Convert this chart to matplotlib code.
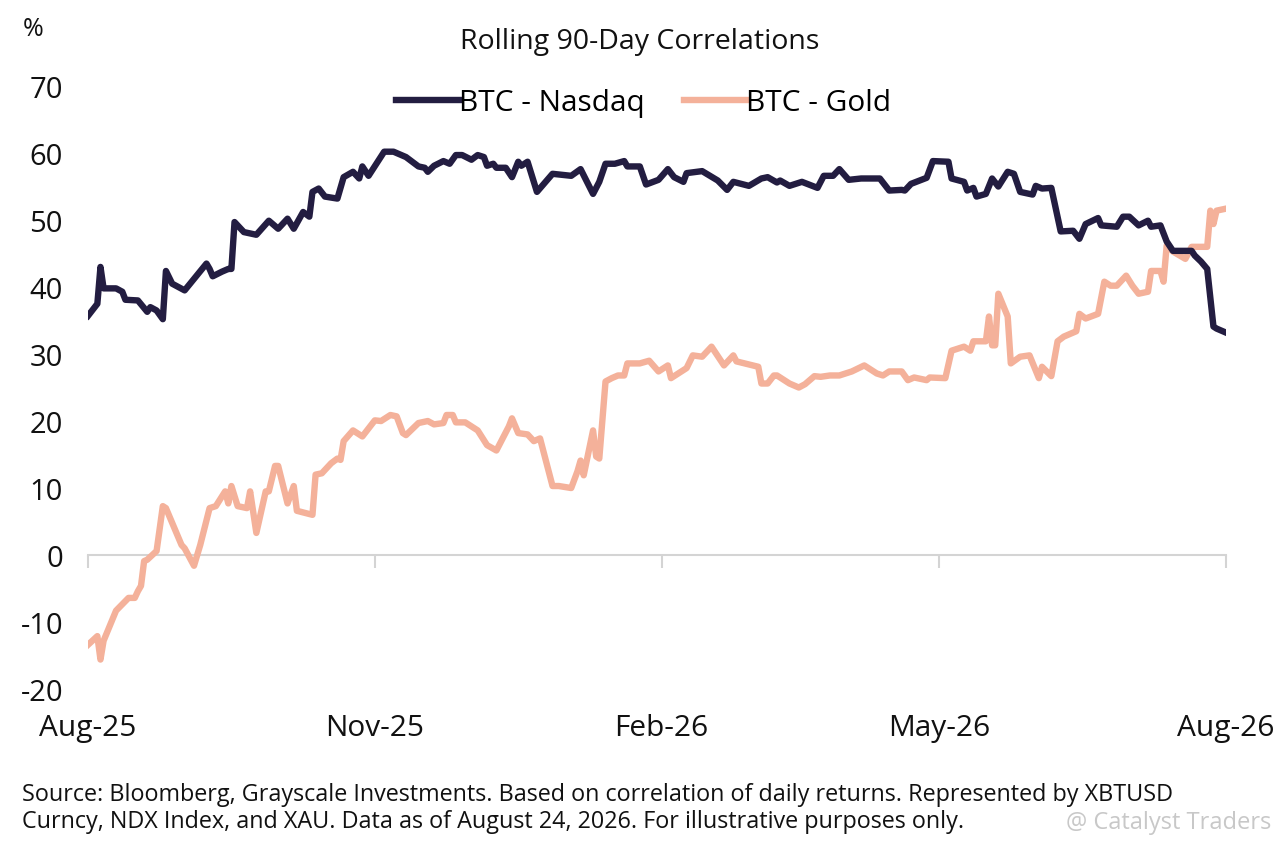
import numpy as np
import pandas as pd
import matplotlib
matplotlib.use("Agg")
import matplotlib.pyplot as plt

plt.rcParams['font.family'] = ['Open Sans', 'DejaVu Sans']

# day offsets from 24 Aug 2025 and correlation values (%)
nasdaq_days = [0, 3, 4, 5, 9, 11, 12, 16, 19, 20, 22, 24, 25, 27, 31, 38, 39, 40, 43, 45,
               46, 47, 50, 54, 58, 61, 64, 66, 69, 71, 72, 74, 76, 80, 82, 85, 87, 88, 90,
               95, 98, 102, 106, 108, 109, 111, 114, 116, 118, 120, 123, 125, 127, 128, 130,
               131, 134, 136, 138, 139, 141, 144, 149, 153, 155, 158, 162, 164, 166, 169,
               172, 173, 177, 179, 183, 186, 188, 191, 192, 197, 202, 205, 207, 212, 216,
               218, 221, 222, 225, 229, 234, 236, 239, 241, 244, 248, 254, 257, 261, 262,
               264, 269, 271, 276, 277, 281, 282, 284, 285, 288, 290, 292, 295, 297, 299,
               303, 304, 306, 309, 312, 316, 318, 320, 324, 325, 330, 332, 334, 337, 340,
               341, 344, 346, 348, 354, 355, 357, 359, 361, 362, 365]
nasdaq_vals = [35.7, 37.5, 43.0, 39.8, 39.8, 39.3, 38.1, 38.0, 36.3, 37.0, 36.5, 35.2, 42.4,
               40.5, 39.5, 43.5, 42.7, 41.6, 42.3, 42.7, 42.7, 49.7, 48.2, 47.8, 49.9, 48.7,
               50.2, 48.7, 51.2, 50.5, 54.2, 54.7, 53.5, 53.2, 56.4, 57.2, 56.2, 58.0, 56.6,
               60.2, 60.2, 59.4, 58.0, 57.8, 57.2, 58.1, 58.8, 58.4, 59.7, 59.7, 59.0, 59.7,
               59.4, 58.1, 58.4, 57.8, 57.8, 56.4, 58.7, 58.1, 58.7, 54.2, 56.9, 56.7, 56.6,
               57.6, 53.9, 55.7, 58.4, 58.4, 58.8, 58.0, 58.0, 55.3, 56.0, 57.6, 56.4, 55.7,
               57.0, 57.3, 55.9, 54.5, 55.7, 55.1, 56.2, 56.4, 55.6, 55.9, 55.1, 55.7, 54.8,
               56.6, 56.6, 57.6, 56.0, 56.2, 56.2, 54.4, 54.5, 54.4, 55.4, 56.3, 58.8, 58.7,
               56.2, 55.7, 54.4, 54.8, 53.5, 53.9, 56.2, 55.0, 57.2, 56.9, 54.2, 53.8, 55.1,
               54.7, 54.8, 48.3, 48.4, 47.2, 49.4, 50.3, 49.2, 49.0, 50.5, 50.5, 49.2, 49.9,
               49.0, 49.2, 46.8, 45.4, 45.4, 44.7, 43.8, 42.7, 34.1, 33.8, 33.2]

gold_days = [0, 3, 4, 5, 9, 13, 15, 16, 17, 18, 19, 22, 24, 25, 30, 31, 34, 36, 39, 41, 44,
             45, 46, 48, 51, 52, 54, 57, 58, 60, 61, 64, 66, 67, 72, 73, 75, 78, 80, 81, 82,
             85, 88, 92, 94, 97, 99, 101, 102, 106, 109, 111, 114, 115, 117, 118, 121, 125,
             128, 131, 135, 136, 138, 141, 143, 145, 149, 151, 155, 157, 158, 159, 162, 163,
             164, 166, 168, 170, 172, 173, 177, 180, 183, 186, 187, 191, 192, 194, 197, 200,
             204, 207, 208, 215, 216, 218, 220, 221, 225, 228, 230, 233, 235, 238, 241, 245,
             249, 253, 255, 257, 261, 263, 265, 269, 270, 275, 277, 281, 283, 284, 288, 289,
             290, 291, 292, 295, 296, 299, 302, 305, 306, 309, 311, 313, 317, 318, 320, 324,
             326, 328, 330, 333, 335, 337, 340, 341, 344, 345, 346, 348, 352, 354, 359, 360,
             361, 362, 365]
gold_vals = [-13.4, -12.1, -15.6, -12.8, -8.3, -6.4, -6.4, -5.4, -4.6, -0.9, -0.7, 0.6, 7.3,
             7.0, 1.5, 1.0, -1.6, 1.5, 7.0, 7.3, 9.5, 7.7, 10.3, 7.3, 7.0, 9.5, 3.3, 9.5, 9.5,
             13.3, 13.3, 7.7, 10.3, 6.6, 6.0, 12.0, 12.2, 13.7, 14.4, 14.2, 17.0, 18.6, 17.7,
             20.1, 20.0, 20.9, 20.7, 18.2, 17.9, 19.7, 20.0, 19.5, 19.7, 20.9, 20.9, 19.8,
             19.8, 18.6, 16.4, 15.6, 19.2, 20.4, 18.2, 18.0, 17.0, 17.4, 10.3, 10.3, 10.0,
             12.5, 14.1, 11.9, 18.6, 14.7, 14.4, 25.9, 26.4, 26.8, 26.8, 28.6, 28.6, 29.0,
             27.4, 28.3, 26.4, 27.6, 27.9, 29.8, 29.6, 31.1, 28.3, 29.8, 28.9, 28.1, 25.6,
             25.6, 26.8, 26.8, 25.6, 25.0, 25.5, 26.7, 26.6, 26.8, 26.8, 27.4, 28.3, 27.1,
             26.8, 27.4, 27.4, 26.1, 26.5, 26.1, 26.5, 26.4, 30.5, 31.1, 30.5, 31.9, 31.9,
             35.6, 31.3, 31.3, 39.0, 35.6, 28.6, 29.6, 29.8, 26.4, 28.1, 26.7, 31.9, 32.6,
             33.4, 36.0, 35.3, 36.0, 40.8, 40.2, 40.2, 41.7, 40.2, 39.0, 39.3, 42.4, 42.4,
             40.8, 46.2, 45.3, 44.2, 46.0, 46.0, 51.4, 49.4, 51.4, 51.7]

start = pd.Timestamp('2025-08-24')
tick_dates = pd.to_datetime(['2025-08-24', '2025-11-24', '2026-02-24', '2026-05-24', '2026-08-24'])
y_ticks = [-20, -10, 0, 10, 20, 30, 40, 50, 60, 70]

nasdaq_x = start + pd.to_timedelta(nasdaq_days, unit='D')
gold_x = start + pd.to_timedelta(gold_days, unit='D')

navy = '#231d41'
salmon = '#f4b19a'
ink = '#111111'

fig = plt.figure(figsize=(12.8, 8.45), dpi=100)
ax = fig.add_axes([0.06875, 0.1834, 0.8890, 0.7136])

ax.plot(gold_x, gold_vals, color=salmon, lw=4.6, solid_joinstyle='round', label='BTC - Gold', zorder=3)
ax.plot(nasdaq_x, nasdaq_vals, color=navy, lw=4.6, solid_joinstyle='round', label='BTC - Nasdaq', zorder=4)

ax.set_xlim(start, start + pd.Timedelta(days=365))
ax.set_ylim(-20, 70)

# zero line carries the ticks, labels sit at the bottom
for s in ['top', 'right', 'left']:
    ax.spines[s].set_visible(False)
ax.spines['bottom'].set_position(('data', 0))
ax.spines['bottom'].set_color('#d4d4d4')
ax.spines['bottom'].set_linewidth(1.5)
ax.set_xticks(tick_dates)
ax.tick_params(axis='x', length=9, width=1.5, color='#d4d4d4', labelbottom=False)

sec = ax.secondary_xaxis('bottom')
sec.spines['bottom'].set_visible(False)
sec.set_xticks(tick_dates)
sec.set_xticklabels([d.strftime('%b-%y') for d in tick_dates])
sec.tick_params(length=0, pad=17, labelsize=21.5, labelcolor=ink)

ax.set_yticks(y_ticks)
ax.set_yticklabels([str(v) for v in y_ticks])
ax.tick_params(axis='y', length=0, pad=18, labelsize=21, labelcolor=ink)

fig.text(0.018, 0.965, '%', fontsize=18, color=ink, va='center')
fig.text(0.50, 0.950, 'Rolling 90-Day Correlations', fontsize=20.5, color=ink, ha='center', va='center')

handles, labels = ax.get_legend_handles_labels()
fig.legend(handles[::-1], labels[::-1], loc='center', bbox_to_anchor=(0.503, 0.877), ncol=2,
           frameon=False, fontsize=21.5, handlelength=2.1, handletextpad=0.0, columnspacing=1.3)

fig.text(0.017, 0.0595, 'Source: Bloomberg, Grayscale Investments. Based on correlation of daily returns. Represented by XBTUSD',
         fontsize=16.8, color=ink, va='center')
fig.text(0.017, 0.0275, 'Curncy, NDX Index, and XAU. Data as of August 24, 2026. For illustrative purposes only.',
         fontsize=16.8, color=ink, va='center')
fig.text(0.993, 0.0255, '@ Catalyst Traders', fontsize=17, color='#c8c8c8', ha='right', va='center')

fig.savefig('out.png', dpi=100, facecolor='white')
